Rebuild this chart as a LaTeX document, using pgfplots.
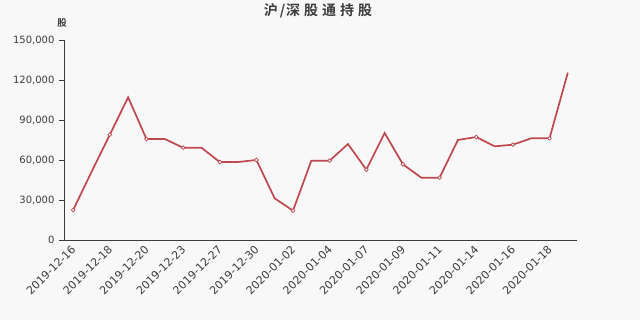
\documentclass[border=0pt]{standalone}
\usepackage{pgfplots}
\pgfplotsset{compat=1.18}
\usepackage{fontspec}
\setmainfont{DejaVu Sans}
\newfontfamily\cjk{Noto Sans CJK SC}
\newfontfamily\cjkb{Noto Sans CJK SC Bold}
\definecolor{bg}{RGB}{248,248,248}
\definecolor{linec}{RGB}{190,72,78}
\definecolor{axc}{RGB}{60,60,60}
\definecolor{txt}{RGB}{60,60,60}
\begin{document}
\begin{tikzpicture}
\fill[bg] (0,0) rectangle (640bp,320bp);
\useasboundingbox (0,0) rectangle (640bp,320bp);
\node[font=\cjkb\fontsize{14bp}{14bp}\selectfont, text=txt] at (318bp,309bp) {沪\hspace{2bp}/\hspace{1bp}深\hspace{4bp}股\hspace{4bp}通\hspace{4bp}持\hspace{4bp}股};
\node[font=\cjkb\fontsize{9.5bp}{10bp}\selectfont, text=txt] at (62bp,297bp) {股};
\begin{axis}[
  at={(64bp,80bp)}, anchor=south west,
  scale only axis, width=513bp, height=200bp,
  xmin=-0.5, xmax=27.5, ymin=0, ymax=150000,
  axis lines=left, axis line style={axc, -},
  xtick={0,2,...,26},
  xticklabels={2019-12-16,2019-12-18,2019-12-20,2019-12-23,2019-12-27,2019-12-30,2020-01-02,2020-01-04,2020-01-07,2020-01-09,2020-01-11,2020-01-14,2020-01-16,2020-01-18},
  minor xtick={-0.5,1.5,...,27.5},
  xtick style={draw=none},
  minor x tick style={axc},
  ytick={0,30000,...,150000},
  ytick style={axc},
  major tick length=5bp, minor tick length=5bp,
  tick align=outside,
  scaled y ticks=false,
  /pgf/number format/.cd, fixed, 1000 sep={,}, assume math mode=true,
  /pgfplots/.cd,
  yticklabel style={font=\fontsize{10bp}{10bp}\selectfont, text=txt, xshift=-1bp},
  xticklabel style={font=\fontsize{11bp}{11bp}\selectfont, text=txt, rotate=45, anchor=east, yshift=-2bp, xshift=2bp},
]
\addplot[linec, line width=1.7bp, mark=*, mark size=1.9bp, mark options={fill=white, draw=linec, line width=0.7bp}, mark repeat=2] coordinates {
(0,22500) (1,51000) (2,79000) (3,107000) (4,75750) (5,75750) (6,69250) (7,69250)
(8,58500) (9,58500) (10,60000) (11,31250) (12,22000) (13,59500) (14,59500)
(15,72000) (16,52750) (17,80250) (18,56750) (19,46750) (20,46750) (21,75000)
(22,77250) (23,70250) (24,71500) (25,76250) (26,76250) (27,125500)
};
\end{axis}
\end{tikzpicture}
\end{document}
